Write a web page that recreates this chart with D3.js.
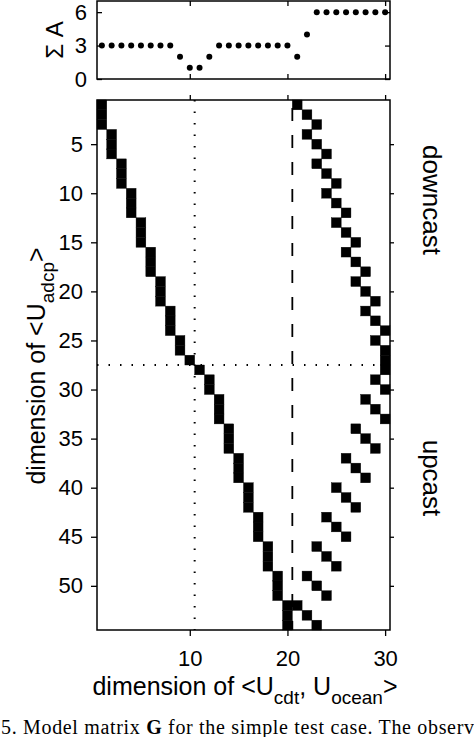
<html>
<head>
<script src="https://d3js.org/d3.v7.min.js"></script>
<style>
body { margin: 0; background: white; }
svg text { font-family: 'Liberation Sans', Arial, Helvetica, sans-serif; fill: black; }
.caption { font-family: 'Liberation Serif', 'Times New Roman', serif; }
</style>
</head>
<body>
<svg width="474" height="737"></svg>
<script>
// column of G that is "on" for every adcp row (rows 1..54), cdt part
var cdtCol = [1,1,1, 2,2,2, 3,3,3, 4,4,4, 5,5,5, 6,6,6, 7,7,7, 8,8,8,
              9,9, 10, 11, 12,12,
              13,13,13, 14,14,14, 15,15,15, 16,16,16, 17,17,17, 18,18,18, 19,19,19, 20,20,20];
// ... and the ocean part
var oceanCol = [21,22,23, 22,23,24, 23,24,25, 24,25,26, 25,26,27, 26,27,28, 27,28,29, 28,29,30,
                29,30, 30, 30, 29,30,
                28,29,30, 27,28,29, 26,27,28, 25,26,27, 24,25,26, 23,24,25, 22,23,24, 21,22,23];
// column sums of G (top panel)
var sumA = [3,3,3,3,3,3,3,3,2,1,1,2,3,3,3,3,3,3,3,3,2,4,6,6,6,6,6,6,6,6];

var xTicks = [10, 20, 30];
var yTicks = [5, 10, 15, 20, 25, 30, 35, 40, 45, 50];
var sumTicks = [0, 3, 6];
var nCols = 30, nRows = 54;
var castSplit = 27.5;   // downcast / upcast row boundary
var cdtSplit = 10.5;    // deepest cdt column
var oceanStart = 20.5;  // cdt / ocean column boundary

var svg = d3.select("svg");

var x = d3.scaleLinear().domain([0.5, nCols + 0.5]).range([97, 390]);
var y = d3.scaleLinear().domain([0.5, nRows + 0.5]).range([100, 630]);
var ys = d3.scaleLinear().domain([0, 7]).range([79, 1]);

// ---- top panel: sum A ----
var sumPanel = svg.append("g");
sumPanel.selectAll("circle")
    .data(sumA)
    .enter()
    .append("circle")
    .attr("cx", (d, i) => x(i + 1))
    .attr("cy", d => ys(d))
    .attr("r", 3)
    .attr("fill", "black");

sumPanel.append("g").attr("transform", "translate(97,0)")
    .call(d3.axisLeft(ys).tickValues(sumTicks).tickSize(-5).tickPadding(10).tickFormat(d3.format("d")));
sumPanel.append("g").attr("transform", "translate(390,0)")
    .call(d3.axisRight(ys).tickValues(sumTicks).tickSize(-5).tickFormat(""));
sumPanel.append("g").attr("transform", "translate(0,79)")
    .call(d3.axisBottom(x).tickValues(xTicks).tickSize(-5).tickFormat(""));
sumPanel.append("g").attr("transform", "translate(0,1)")
    .call(d3.axisTop(x).tickValues(xTicks).tickSize(-5).tickFormat(""));
sumPanel.append("rect")
    .attr("x", x(0.5)).attr("y", ys(7))
    .attr("width", x(nCols + 0.5) - x(0.5)).attr("height", ys(0) - ys(7))
    .attr("fill", "none").attr("stroke", "black").attr("stroke-width", 1.5);
sumPanel.append("text")
    .attr("transform", "translate(63,40) rotate(-90)")
    .attr("text-anchor", "middle")
    .style("font-size", "24px")
    .text("\u03A3 A");

// ---- main panel: matrix G ----
var cells = cdtCol.map((c, i) => ({row: i + 1, col: c}))
    .concat(oceanCol.map((c, i) => ({row: i + 1, col: c})));

var mainPanel = svg.append("g");
mainPanel.selectAll("rect.cell")
    .data(cells)
    .enter()
    .append("rect")
    .attr("class", "cell")
    .attr("x", d => x(d.col - 0.5))
    .attr("y", d => y(d.row - 0.5))
    .attr("width", d => x(d.col + 0.5) - x(d.col - 0.5))
    .attr("height", d => y(d.row + 0.5) - y(d.row - 0.5))
    .attr("fill", "black")
    .attr("stroke", "black")
    .attr("stroke-width", 0.4);

// guide lines
mainPanel.append("line")
    .attr("x1", x(cdtSplit)).attr("x2", x(cdtSplit))
    .attr("y1", y(0.5)).attr("y2", y(nRows + 0.5))
    .attr("stroke", "black").attr("stroke-width", 2)
    .attr("stroke-dasharray", "1.5,10");
mainPanel.append("line")
    .attr("x1", x(0.5)).attr("x2", x(nCols + 0.5))
    .attr("y1", y(castSplit)).attr("y2", y(castSplit))
    .attr("stroke", "black").attr("stroke-width", 2)
    .attr("stroke-dasharray", "1.5,10");
mainPanel.append("line")
    .attr("x1", x(oceanStart)).attr("x2", x(oceanStart))
    .attr("y1", y(0.5) + 8).attr("y2", y(nRows + 0.5))
    .attr("stroke", "black").attr("stroke-width", 1.8)
    .attr("stroke-dasharray", "13,14");

// axes (ticks out)
mainPanel.append("g").attr("transform", "translate(97,0)")
    .call(d3.axisLeft(y).tickValues(yTicks).tickSize(6).tickPadding(8));
mainPanel.append("g").attr("transform", "translate(390,0)")
    .call(d3.axisRight(y).tickValues(yTicks).tickSize(4).tickFormat(""));
mainPanel.append("g").attr("transform", "translate(0,630)")
    .call(d3.axisBottom(x).tickValues(xTicks).tickSize(6).tickPadding(14));
mainPanel.append("g").attr("transform", "translate(0,100)")
    .call(d3.axisTop(x).tickValues(xTicks).tickSize(5).tickFormat(""));
mainPanel.append("rect")
    .attr("x", x(0.5)).attr("y", y(0.5))
    .attr("width", x(nCols + 0.5) - x(0.5)).attr("height", y(nRows + 0.5) - y(0.5))
    .attr("fill", "none").attr("stroke", "black").attr("stroke-width", 1.5);

svg.selectAll(".domain").remove();
svg.selectAll(".tick line").attr("stroke", "black").attr("stroke-width", 1.3);
svg.selectAll(".tick text").style("font-size", "22px").attr("fill", "black");

// axis labels
var xl = svg.append("text")
    .attr("x", 245).attr("y", 695)
    .attr("text-anchor", "middle")
    .style("font-size", "25px");
xl.append("tspan").text("dimension of <U");
xl.append("tspan").attr("dy", 9).style("font-size", "19px").text("cdt");
xl.append("tspan").attr("dy", -9).text(", U");
xl.append("tspan").attr("dy", 9).style("font-size", "19px").text("ocean");
xl.append("tspan").attr("dy", -9).text(">");

var yl = svg.append("text")
    .attr("transform", "translate(45,366) rotate(-90)")
    .attr("text-anchor", "middle")
    .style("font-size", "25px");
yl.append("tspan").text("dimension of <U");
yl.append("tspan").attr("dy", 9).style("font-size", "19px").text("adcp");
yl.append("tspan").attr("dy", -9).text(">");

svg.append("text")
    .attr("transform", "translate(432,200) rotate(90)")
    .attr("text-anchor", "middle")
    .attr("dominant-baseline", "central")
    .style("font-size", "26px")
    .text("downcast");
svg.append("text")
    .attr("transform", "translate(432,478) rotate(90)")
    .attr("text-anchor", "middle")
    .attr("dominant-baseline", "central")
    .style("font-size", "26px")
    .text("upcast");

// caption line, cut by the page edge
var cap = svg.append("text")
    .attr("class", "caption")
    .attr("x", 1).attr("y", 734)
    .attr("textLength", 473)
    .attr("lengthAdjust", "spacing")
    .style("font-size", "20px");
cap.append("tspan").text("5. Model matrix ");
cap.append("tspan").style("font-weight", "bold").text("G");
cap.append("tspan").text(" for the simple test case. The observ");
</script>
</body>
</html>
